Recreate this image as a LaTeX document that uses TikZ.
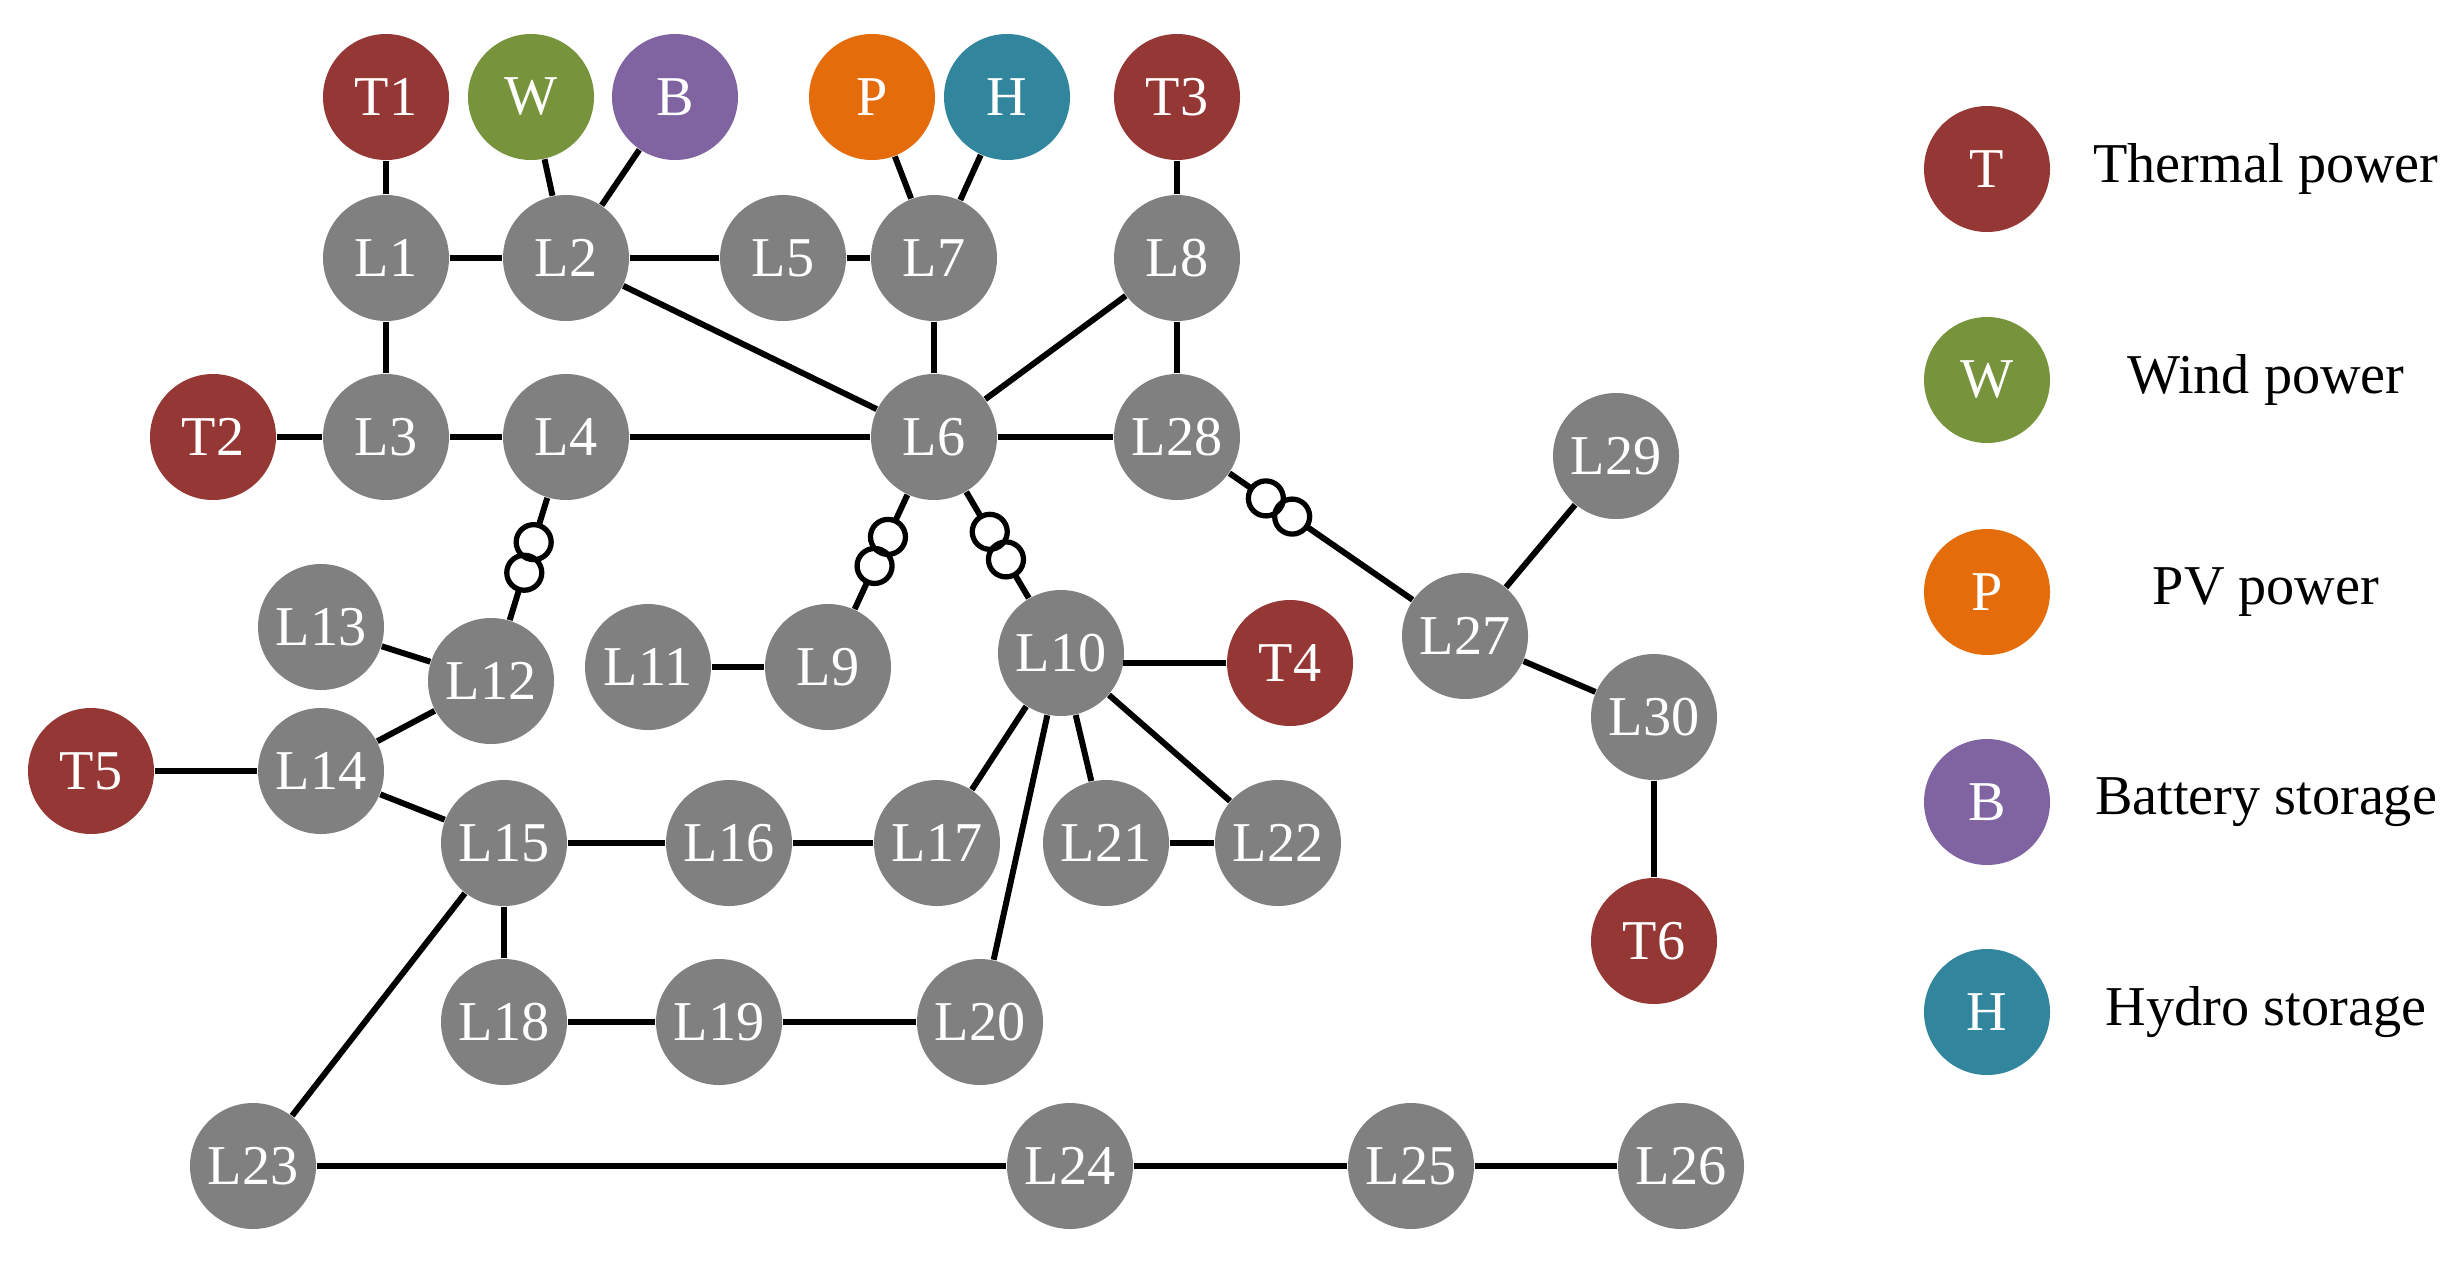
\documentclass[tikz,border=0pt]{standalone}
\usepackage{fontspec}
\setmainfont{Liberation Serif}
\usetikzlibrary{calc}
\definecolor{cthermal}{HTML}{953735}
\definecolor{cwind}{HTML}{77933C}
\definecolor{cbatt}{HTML}{8064A2}
\definecolor{cpv}{HTML}{E46C0A}
\definecolor{chydro}{HTML}{31859C}
\definecolor{cload}{HTML}{808080}
\tikzset{
  bus/.style={circle, fill=#1, minimum size=12.6mm, inner sep=0pt, text=white,
    font=\fontsize{16pt}{19pt}\selectfont},
  ld/.style={bus=cload},
  th/.style={bus=cthermal},
  wd/.style={bus=cwind},
  bt/.style={bus=cbatt},
  pv/.style={bus=cpv},
  hy/.style={bus=chydro},
  line/.style={line width=1.7pt, draw=black},
  xfo/.style={line width=1.5pt, draw=black, fill=white},
  legtext/.style={font=\fontsize{16pt}{19pt}\selectfont, text=black},
}
\begin{document}
\begin{tikzpicture}[x=0.1mm, y=-0.1mm]
\useasboundingbox (0,0) rectangle (2460,1260);
% nodes
\node[th] (T1) at (386,97) {T1};
\node[wd] (W)  at (531,97) {W};
\node[bt] (B)  at (675,97) {B};
\node[pv] (P)  at (872,97) {P};
\node[hy] (H)  at (1007,97) {H};
\node[th] (T3) at (1177,97) {T3};
\node[ld] (L1) at (386,258) {L1};
\node[ld] (L2) at (566,258) {L2};
\node[ld] (L5) at (783,258) {L5};
\node[ld] (L7) at (934,258) {L7};
\node[ld] (L8) at (1177,258) {L8};
\node[th] (T2) at (213,437) {T2};
\node[ld] (L3) at (386,437) {L3};
\node[ld] (L4) at (566,437) {L4};
\node[ld] (L6) at (934,437) {L6};
\node[ld] (L28) at (1177,437) {L28};
\node[ld] (L29) at (1616,456) {L29};
\node[ld] (L13) at (321,627) {L13};
\node[ld] (L12) at (491,681) {L12};
\node[ld] (L11) at (648,667) {L11};
\node[ld] (L9) at (828,667) {L9};
\node[ld] (L10) at (1061,653) {L10};
\node[th] (T4) at (1290,663) {T4};
\node[ld] (L27) at (1465,636) {L27};
\node[ld] (L30) at (1654,717) {L30};
\node[th] (T5) at (91,771) {T5};
\node[ld] (L14) at (321,771) {L14};
\node[ld] (L15) at (504,843) {L15};
\node[ld] (L16) at (729,843) {L16};
\node[ld] (L17) at (937,843) {L17};
\node[ld] (L21) at (1106,843) {L21};
\node[ld] (L22) at (1278,843) {L22};
\node[th] (T6) at (1654,941) {T6};
\node[ld] (L18) at (504,1022) {L18};
\node[ld] (L19) at (719,1022) {L19};
\node[ld] (L20) at (980,1022) {L20};
\node[ld] (L23) at (253,1166) {L23};
\node[ld] (L24) at (1070,1166) {L24};
\node[ld] (L25) at (1411,1166) {L25};
\node[ld] (L26) at (1681,1166) {L26};
% connectors
\draw[line] (T1) -- (L1);
\draw[line] (W) -- (L2);
\draw[line] (B) -- (L2);
\draw[line] (P) -- (L7);
\draw[line] (H) -- (L7);
\draw[line] (T3) -- (L8);
\draw[line] (L1) -- (L2);
\draw[line] (L2) -- (L5);
\draw[line] (L5) -- (L7);
\draw[line] (L1) -- (L3);
\draw[line] (L2) -- (L6);
\draw[line] (L7) -- (L6);
\draw[line] (L8) -- (L6);
\draw[line] (L8) -- (L28);
\draw[line] (T2) -- (L3);
\draw[line] (L3) -- (L4);
\draw[line] (L4) -- (L6);
\draw[line] (L6) -- (L28);
\draw[line] (L4) -- (L12);
\draw[line] (L6) -- (L9);
\draw[line] (L6) -- (L10);
\draw[line] (L28) -- (L27);
\draw[line] (L13) -- (L12);
\draw[line] (L12) -- (L14);
\draw[line] (T5) -- (L14);
\draw[line] (L14) -- (L15);
\draw[line] (L11) -- (L9);
\draw[line] (T4.west) -- ($(L10.center)+(62,10)$);
\draw[line] (L10) -- (L17);
\draw[line] (L10) -- (L21);
\draw[line] (L10) -- (L22);
\draw[line] (L10) -- (L20);
\draw[line] (L15) -- (L16);
\draw[line] (L16) -- (L17);
\draw[line] (L21) -- (L22);
\draw[line] (L15) -- (L18);
\draw[line] (L18) -- (L19);
\draw[line] (L19) -- (L20);
\draw[line] (L15) -- (L23);
\draw[line] (L23) -- (L24);
\draw[line] (L24) -- (L25);
\draw[line] (L25) -- (L26);
\draw[line] (L27) -- (L29);
\draw[line] (L27) -- (L30);
\draw[line] (L30) -- (T6);
% transformers
\coordinate (ta) at ($(L4)!12.6mm!(L12)$);
\coordinate (tb) at ($(L6)!12.6mm!(L9)$);
\coordinate (tc) at ($(L6)!12.6mm!(L10)$);
\coordinate (td) at ($(L28)!12.4mm!(L27)$);
\path[xfo] ($(ta)!1.6mm!(L4)$) circle (1.75mm) ($(ta)!1.6mm!(L12)$) circle (1.75mm);
\path[xfo] ($(tb)!1.6mm!(L6)$) circle (1.75mm) ($(tb)!1.6mm!(L9)$) circle (1.75mm);
\path[xfo] ($(tc)!1.6mm!(L6)$) circle (1.75mm) ($(tc)!1.6mm!(L10)$) circle (1.75mm);
\path[xfo] ($(td)!1.6mm!(L28)$) circle (1.75mm) ($(td)!1.6mm!(L27)$) circle (1.75mm);
% legend
\node[th] (kT) at (1987,169) {T};
\node[wd] (kW) at (1987,380) {W};
\node[pv] (kP) at (1987,592) {P};
\node[bt] (kB) at (1987,802) {B};
\node[hy] (kH) at (1987,1012) {H};
\node[legtext] (tT) at (2266,169) {Thermal power};
\node[legtext] (tW) at (2266,380) {Wind power};
\node[legtext] (tP) at (2266,592) {PV power};
\node[legtext] (tB) at (2266,802) {Battery storage};
\node[legtext] (tH) at (2266,1012) {Hydro storage};
\end{tikzpicture}
\end{document}
